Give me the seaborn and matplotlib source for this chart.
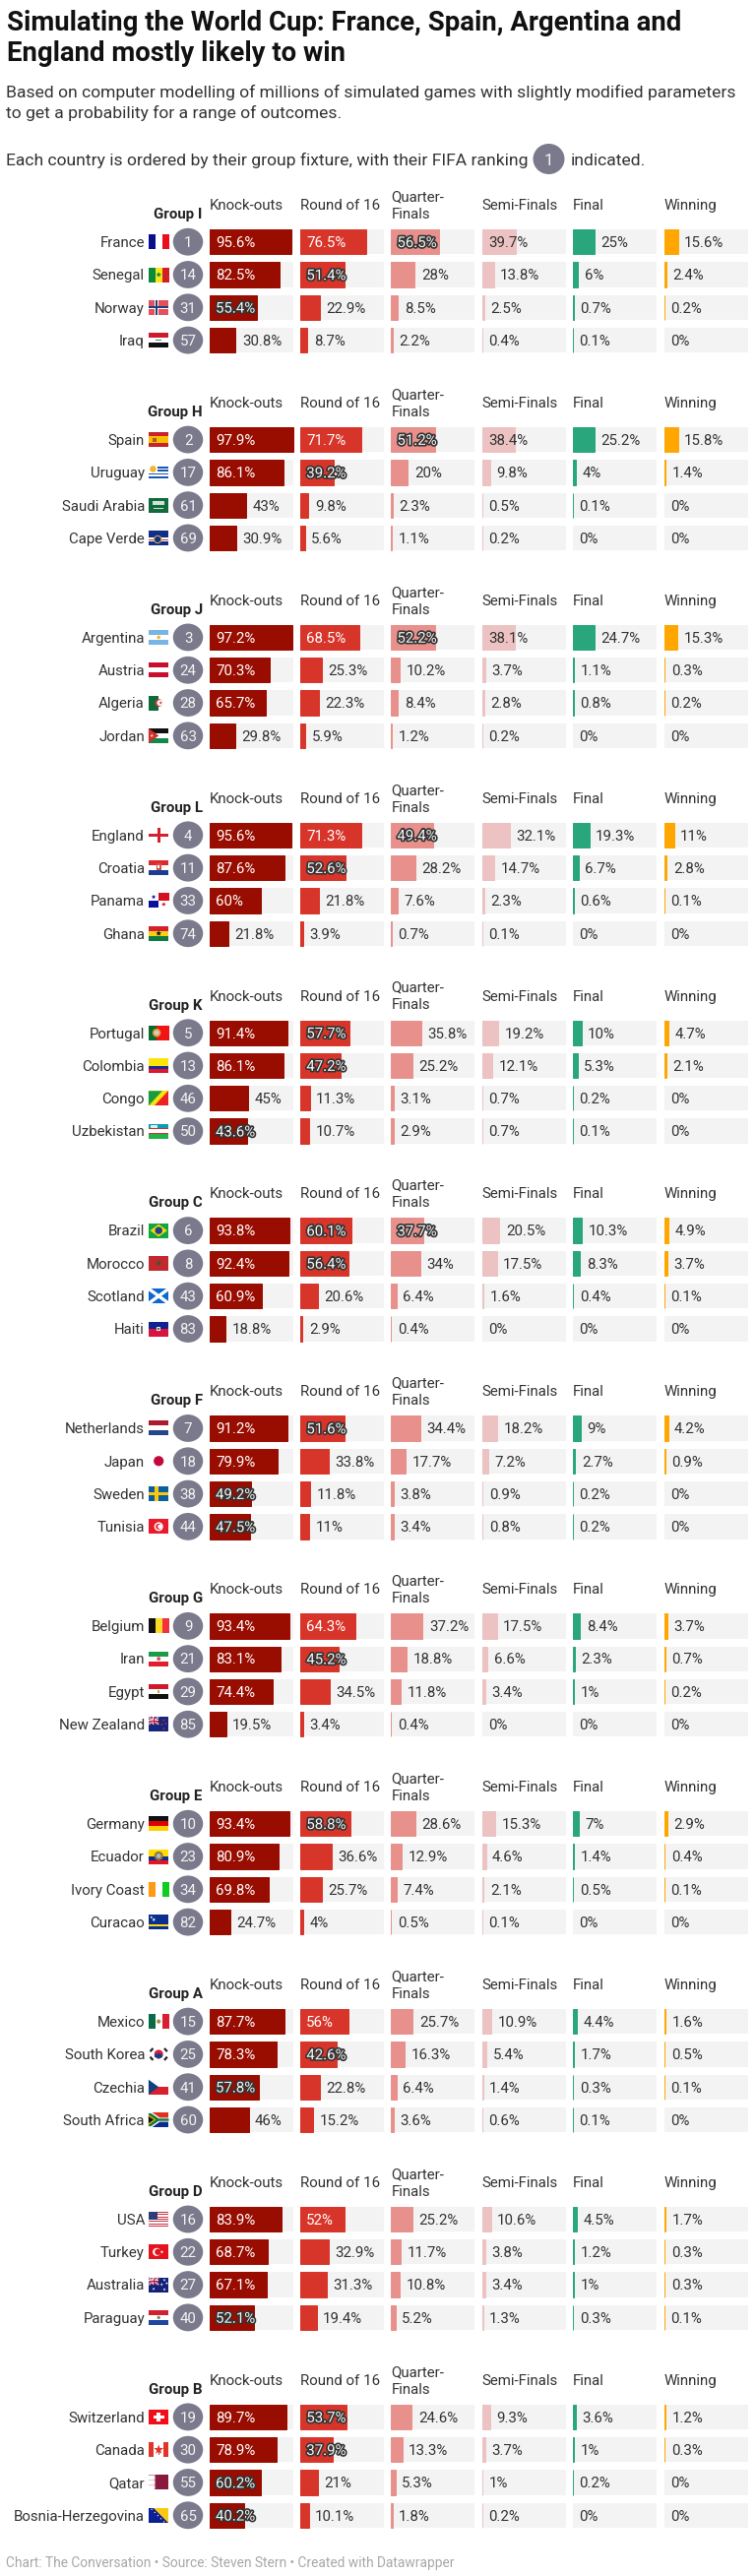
import math

import matplotlib
matplotlib.use("Agg")
import matplotlib.pyplot as plt
import matplotlib.patheffects as pe
from matplotlib.lines import Line2D
from matplotlib.patches import Ellipse, Polygon, Rectangle
from matplotlib.transforms import Affine2D
import pandas as pd
import seaborn as sns

# ---------------------------------------------------------------- data
GROUP_NAMES = ["Group I", "Group H", "Group J", "Group L", "Group K", "Group C",
               "Group F", "Group G", "Group E", "Group A", "Group D", "Group B"]
TEAMS = ["France", "Senegal", "Norway", "Iraq",
         "Spain", "Uruguay", "Saudi Arabia", "Cape Verde",
         "Argentina", "Austria", "Algeria", "Jordan",
         "England", "Croatia", "Panama", "Ghana",
         "Portugal", "Colombia", "Congo", "Uzbekistan",
         "Brazil", "Morocco", "Scotland", "Haiti",
         "Netherlands", "Japan", "Sweden", "Tunisia",
         "Belgium", "Iran", "Egypt", "New Zealand",
         "Germany", "Ecuador", "Ivory Coast", "Curacao",
         "Mexico", "South Korea", "Czechia", "South Africa",
         "USA", "Turkey", "Australia", "Paraguay",
         "Switzerland", "Canada", "Qatar", "Bosnia-Herzegovina"]
RANKS = [1, 14, 31, 57, 2, 17, 61, 69, 3, 24, 28, 63, 4, 11, 33, 74,
         5, 13, 46, 50, 6, 8, 43, 83, 7, 18, 38, 44, 9, 21, 29, 85,
         10, 23, 34, 82, 15, 25, 41, 60, 16, 22, 27, 40, 19, 30, 55, 65]
KNOCKOUTS = [95.6, 82.5, 55.4, 30.8, 97.9, 86.1, 43, 30.9, 97.2, 70.3, 65.7, 29.8,
             95.6, 87.6, 60, 21.8, 91.4, 86.1, 45, 43.6, 93.8, 92.4, 60.9, 18.8,
             91.2, 79.9, 49.2, 47.5, 93.4, 83.1, 74.4, 19.5, 93.4, 80.9, 69.8, 24.7,
             87.7, 78.3, 57.8, 46, 83.9, 68.7, 67.1, 52.1, 89.7, 78.9, 60.2, 40.2]
ROUND_OF_16 = [76.5, 51.4, 22.9, 8.7, 71.7, 39.2, 9.8, 5.6, 68.5, 25.3, 22.3, 5.9,
               71.3, 52.6, 21.8, 3.9, 57.7, 47.2, 11.3, 10.7, 60.1, 56.4, 20.6, 2.9,
               51.6, 33.8, 11.8, 11, 64.3, 45.2, 34.5, 3.4, 58.8, 36.6, 25.7, 4,
               56, 42.6, 22.8, 15.2, 52, 32.9, 31.3, 19.4, 53.7, 37.9, 21, 10.1]
QUARTER_FINALS = [56.5, 28, 8.5, 2.2, 51.2, 20, 2.3, 1.1, 52.2, 10.2, 8.4, 1.2,
                  49.4, 28.2, 7.6, 0.7, 35.8, 25.2, 3.1, 2.9, 37.7, 34, 6.4, 0.4,
                  34.4, 17.7, 3.8, 3.4, 37.2, 18.8, 11.8, 0.4, 28.6, 12.9, 7.4, 0.5,
                  25.7, 16.3, 6.4, 3.6, 25.2, 11.7, 10.8, 5.2, 24.6, 13.3, 5.3, 1.8]
SEMI_FINALS = [39.7, 13.8, 2.5, 0.4, 38.4, 9.8, 0.5, 0.2, 38.1, 3.7, 2.8, 0.2,
               32.1, 14.7, 2.3, 0.1, 19.2, 12.1, 0.7, 0.7, 20.5, 17.5, 1.6, 0,
               18.2, 7.2, 0.9, 0.8, 17.5, 6.6, 3.4, 0, 15.3, 4.6, 2.1, 0.1,
               10.9, 5.4, 1.4, 0.6, 10.6, 3.8, 3.4, 1.3, 9.3, 3.7, 1, 0.2]
FINALS = [25, 6, 0.7, 0.1, 25.2, 4, 0.1, 0, 24.7, 1.1, 0.8, 0,
          19.3, 6.7, 0.6, 0, 10, 5.3, 0.2, 0.1, 10.3, 8.3, 0.4, 0,
          9, 2.7, 0.2, 0.2, 8.4, 2.3, 1, 0, 7, 1.4, 0.5, 0,
          4.4, 1.7, 0.3, 0.1, 4.5, 1.2, 1, 0.3, 3.6, 1, 0.2, 0]
WINNING = [15.6, 2.4, 0.2, 0, 15.8, 1.4, 0, 0, 15.3, 0.3, 0.2, 0,
           11, 2.8, 0.1, 0, 4.7, 2.1, 0, 0, 4.9, 3.7, 0.1, 0,
           4.2, 0.9, 0, 0, 3.7, 0.7, 0.2, 0, 2.9, 0.4, 0.1, 0,
           1.6, 0.5, 0.1, 0, 1.7, 0.3, 0.3, 0.1, 1.2, 0.3, 0, 0]
STAGES = ["Knock-outs", "Round of 16", "Quarter-\nFinals", "Semi-Finals", "Final", "Winning"]
STAGE_VALUES = [KNOCKOUTS, ROUND_OF_16, QUARTER_FINALS, SEMI_FINALS, FINALS, WINNING]
SCALE_MAX = 97.9

TITLE = ["Simulating the World Cup: France, Spain, Argentina and",
         "England mostly likely to win"]
INTRO = ["Based on computer modelling of millions of simulated games with slightly modified parameters",
         "to get a probability for a range of outcomes."]
KEY_BEFORE, KEY_RANK, KEY_AFTER = ("Each country is ordered by their group fixture, with their FIFA ranking",
                                   "1", "indicated.")
FOOTER = "Chart: The Conversation \u2022 Source: Steven Stern \u2022 Created with Datawrapper"

frame = pd.DataFrame({
    "team": TEAMS,
    "group": [g for g in GROUP_NAMES for _ in range(4)],
    "rank": RANKS,
    **{stage: vals for stage, vals in zip(STAGES, STAGE_VALUES)},
})

# ---------------------------------------------------------------- layout, in pixels
WIDTH, HEIGHT, DPI = 768, 2617, 100
PT = 72 / DPI
COLUMN_LEFT = [212.6, 304.9, 397.0, 489.6, 582.0, 675.0]
COLUMN_WIDTH = 85.3
COLUMN_COLORS = ["#990c00", "#d8352a", "#e8918c", "#ecc2c2", "#29a67b", "#ffa600"]
TRACK = "#f3f3f3"
INK = "#333333"
FIRST_ROW = 245.7
ROW_STEP = 33.3
GROUP_STEP = 200.88
BAR_SHARE = 25.3 / ROW_STEP
LABEL_PX = 15.0

sns.set_theme(style="white")
plt.rcParams["font.family"] = ["Roboto", "DejaVu Sans"]

fig = plt.figure(figsize=(WIDTH / DPI, HEIGHT / DPI), dpi=DPI, facecolor="white")

page = fig.add_axes([0, 0, 1, 1], zorder=5)
page.set_xlim(0, WIDTH)
page.set_ylim(HEIGHT, 0)
page.axis("off")
page.patch.set_alpha(0)


def put(x, centre, text, px, color=INK, ha="left", weight="normal", baseline=None):
    """Place a text line on the page by its optical centre, or by its baseline."""
    y = baseline if baseline is not None else centre + 0.355 * px
    return page.text(x, y, text, fontsize=px * PT, color=color, ha=ha, va="baseline",
                     fontweight=weight)


def rank_badge(cx, cy, text, w=30.5, h=27.8, px=LABEL_PX):
    page.add_patch(Ellipse((cx, cy), w, h, facecolor="#7b7a8c", edgecolor="none"))
    put(cx, cy, text, px, color="#f2f2f2", ha="center")


# ---------------------------------------------------------------- flags
class Flag:
    """A small flag painted in unit coordinates inside a pixel box on the page."""
    W, H = 20.6, 15.0

    def __init__(self, cx, cy):
        self.t = Affine2D().scale(self.W, self.H).translate(cx - self.W / 2, cy - self.H / 2) + page.transData

    def rect(self, x, y, w, h, c):
        page.add_patch(Rectangle((x, y), w, h, facecolor=c, edgecolor="none", transform=self.t))
        return self

    def hs(self, *colors, weights=None):
        weights = weights or [1] * len(colors)
        y, total = 0, sum(weights)
        for c, k in zip(colors, weights):
            self.rect(0, y, 1, k / total, c)
            y += k / total
        return self

    def vs(self, *colors, weights=None):
        weights = weights or [1] * len(colors)
        x, total = 0, sum(weights)
        for c, k in zip(colors, weights):
            self.rect(x, 0, k / total, 1, c)
            x += k / total
        return self

    def poly(self, pts, c):
        page.add_patch(Polygon(pts, closed=True, facecolor=c, edgecolor="none", transform=self.t))
        return self

    def disc(self, x, y, r, c):
        page.add_patch(Ellipse((x, y), 2 * r * self.H / self.W, 2 * r, facecolor=c, edgecolor="none",
                               transform=self.t))
        return self

    def star(self, x, y, r, c):
        pts = []
        for i in range(10):
            a = -math.pi / 2 + i * math.pi / 5
            rr = r if i % 2 == 0 else r * 0.42
            pts.append((x + rr * math.cos(a) * self.H / self.W, y + rr * math.sin(a)))
        return self.poly(pts, c)

    def line(self, x0, y0, x1, y1, c, lw):
        page.add_line(Line2D([x0, x1], [y0, y1], color=c, lw=lw, transform=self.t, solid_capstyle="butt"))
        return self

    def jack(self):
        self.rect(0, 0, 0.5, 0.5, "#22307f")
        self.line(0, 0, 0.5, 0.5, "white", 1.2).line(0, 0.5, 0.5, 0, "white", 1.2)
        self.line(0, 0, 0.5, 0.5, "#c8102e", 0.4).line(0, 0.5, 0.5, 0, "#c8102e", 0.4)
        self.line(0.25, 0, 0.25, 0.5, "white", 1.6).line(0, 0.25, 0.5, 0.25, "white", 1.6)
        self.line(0.25, 0, 0.25, 0.5, "#c8102e", 0.9).line(0, 0.25, 0.5, 0.25, "#c8102e", 0.9)
        return self


def paint_norway(f):
    f.hs("#e4505c")
    f.rect(0.28, 0, 0.2, 1, "white").rect(0, 0.38, 1, 0.24, "white")
    f.rect(0.33, 0, 0.1, 1, "#1e3f78").rect(0, 0.44, 1, 0.12, "#1e3f78")


def paint_uruguay(f):
    f.hs(*["white", "#1b57b0"] * 4 + ["white"])
    f.rect(0, 0, 0.45, 0.55, "white").disc(0.22, 0.27, 0.22, "#f2b632")


def paint_saudi(f):
    f.hs("#116b3c")
    f.rect(0.22, 0.22, 0.56, 0.3, "#cfe2d6").rect(0.25, 0.68, 0.5, 0.05, "#cfe2d6")


def paint_cape_verde(f):
    f.hs("#0f2f8a", "white", "#d0392b", "white", "#0f2f8a", weights=[6, 1, 1, 1, 3])
    f.disc(0.45, 0.6, 0.28, "#c9a24a").disc(0.45, 0.6, 0.2, "#0f2f8a")


def paint_algeria(f):
    f.vs("#0c6b3a", "white")
    f.disc(0.5, 0.5, 0.26, "#d0312d").disc(0.56, 0.5, 0.2, "white").star(0.6, 0.5, 0.12, "#d0312d")


def paint_jordan(f):
    f.hs("#111111", "white", "#108a4a")
    f.poly([(0, 0), (0.5, 0.5), (0, 1)], "#d0312d").star(0.16, 0.5, 0.11, "white")


def paint_england(f):
    f.rect(0.42, 0, 0.16, 1, "#d4202e").rect(0, 0.4, 1, 0.2, "#d4202e")


def paint_croatia(f):
    f.hs("#e02a2a", "white", "#1c3d94")
    f.rect(0.38, 0.18, 0.24, 0.5, "#d84c4c").rect(0.44, 0.3, 0.12, 0.2, "white")


def paint_panama(f):
    f.rect(0.5, 0, 0.5, 0.5, "#d6101f").rect(0, 0.5, 0.5, 0.5, "#0b0f9e")
    f.star(0.25, 0.25, 0.16, "#0b0f9e").star(0.75, 0.75, 0.16, "#d6101f")


def paint_portugal(f):
    f.vs("#0b6b2d", "#f01414", weights=[2, 3])
    f.disc(0.4, 0.5, 0.28, "#e6a23c").disc(0.4, 0.5, 0.15, "#c9d3df")


def paint_congo(f):
    f.hs("#f5e50f")
    f.poly([(0, 0), (0.68, 0), (0, 1)], "#1a9c3e").poly([(1, 0), (1, 1), (0.32, 1)], "#ef2020")


def paint_uzbekistan(f):
    f.hs("#0f9ab5", "#d23030", "white", "#d23030", "#21b24a", weights=[10, 1, 9, 1, 10])
    f.rect(0.12, 0.08, 0.3, 0.18, "#d5eef2")


def paint_brazil(f):
    f.hs("#11a63f")
    f.poly([(0.08, 0.5), (0.5, 0.08), (0.92, 0.5), (0.5, 0.92)], "#f5dc0a").disc(0.5, 0.5, 0.25, "#22408c")


def paint_scotland(f):
    f.hs("#0a68d0")
    f.line(0, 0, 1, 1, "white", 2.4).line(0, 1, 1, 0, "white", 2.4)


def paint_haiti(f):
    f.hs("#0f2490", "#d81540")
    f.rect(0.39, 0.36, 0.22, 0.28, "#e9e9e9").rect(0.46, 0.46, 0.08, 0.12, "#4a6a4a")


def paint_sweden(f):
    f.hs("#0a5f9e")
    f.rect(0.3, 0, 0.18, 1, "#fdc80c").rect(0, 0.39, 1, 0.22, "#fdc80c")


def paint_tunisia(f):
    f.hs("#ea1a2a")
    f.disc(0.5, 0.5, 0.3, "white").disc(0.5, 0.5, 0.2, "#ea1a2a").disc(0.56, 0.5, 0.15, "white")


def paint_iran(f):
    f.hs("#1a9b4a", "white", "#df1f2f")
    f.disc(0.5, 0.5, 0.13, "#df5060")


def paint_new_zealand(f):
    f.hs("#17277e").jack()
    for x, y in [(0.75, 0.22), (0.66, 0.5), (0.85, 0.45), (0.75, 0.8)]:
        f.star(x, y, 0.09, "#e02a2a")


def paint_ecuador(f):
    f.hs("#ffdd00", "#0f2a90", "#e01525", weights=[2, 1, 1])
    f.disc(0.5, 0.46, 0.3, "#a0702a").disc(0.5, 0.46, 0.16, "#8fc0e0")


def paint_curacao(f):
    f.hs("#0a2f8e", "#f9d90f", "#0a2f8e", weights=[11, 2, 3])
    f.star(0.14, 0.18, 0.1, "white").star(0.26, 0.34, 0.13, "white")


def paint_mexico(f):
    f.vs("#0b6b47", "white", "#d81e30")
    f.disc(0.5, 0.5, 0.14, "#a58a4a")


def paint_korea(f):
    f.disc(0.5, 0.5, 0.3, "#d81e30").rect(0.3, 0.52, 0.4, 0.2, "#173c8c")
    f.disc(0.5, 0.62, 0.18, "#173c8c")
    for x, y, x1, y1 in [(0.08, 0.32, 0.22, 0.1), (0.78, 0.1, 0.92, 0.32),
                         (0.08, 0.68, 0.22, 0.9), (0.78, 0.9, 0.92, 0.68)]:
        f.line(x, y, x1, y1, "#222222", 1.6)


def paint_south_africa(f):
    f.hs("#e0301e", "#0c2a8f")
    f.poly([(0, 0), (0.18, 0), (0.55, 0.36), (1, 0.36), (1, 0.64), (0.55, 0.64), (0.18, 1), (0, 1)], "white")
    f.poly([(0, 0.06), (0.12, 0.06), (0.5, 0.42), (1, 0.42), (1, 0.58), (0.5, 0.58), (0.12, 0.94), (0, 0.94)],
           "#107a3c")
    f.poly([(0, 0.16), (0.36, 0.5), (0, 0.84)], "#f5b70f")
    f.poly([(0, 0.26), (0.26, 0.5), (0, 0.74)], "#111111")


def paint_usa(f):
    f.hs(*["#c8354a", "white"] * 6 + ["#c8354a"])
    f.rect(0, 0, 0.44, 0.54, "#2f3d77")


def paint_turkey(f):
    f.hs("#e4141e")
    f.disc(0.4, 0.5, 0.27, "white").disc(0.46, 0.5, 0.21, "#e4141e").star(0.66, 0.5, 0.12, "white")


def paint_australia(f):
    f.hs("#14227a").jack()
    for x, y in [(0.25, 0.78), (0.78, 0.18), (0.65, 0.48), (0.9, 0.4), (0.78, 0.82)]:
        f.star(x, y, 0.1, "white")


def paint_canada(f):
    f.vs("#e0352a", "white", "#e0352a", weights=[1, 2, 1])
    f.star(0.5, 0.5, 0.34, "#e0352a").rect(0.48, 0.6, 0.04, 0.25, "#e0352a")


def paint_qatar(f):
    f.hs("#8a1a3d")
    for k in range(6):
        f.poly([(0, k / 6), (0.36, k / 6), (0.28, (k + 0.5) / 6), (0.36, (k + 1) / 6), (0, (k + 1) / 6)], "white")


def paint_bosnia(f):
    f.hs("#0d1f92")
    f.poly([(0.24, 0), (1, 0), (1, 1)], "#fbc813")
    for k in range(5):
        f.star(0.16 + k * 0.15, 0.0 + k * 0.21 + 0.1, 0.07, "white")


PAINTERS = {
    "France": lambda f: f.vs("#0a0f8c", "white", "#e8101e"),
    "Senegal": lambda f: f.vs("#0b8a3a", "#fbe51a", "#d21f26").star(0.5, 0.5, 0.2, "#0b8a3a"),
    "Norway": paint_norway,
    "Iraq": lambda f: f.hs("#ce1a2c", "white", "#111111").rect(0.35, 0.44, 0.3, 0.12, "#3a8a55"),
    "Spain": lambda f: f.hs("#c8232c", "#f6c000", "#c8232c", weights=[1, 2, 1]).rect(0.22, 0.38, 0.18, 0.26, "#b5562a"),
    "Uruguay": paint_uruguay,
    "Saudi Arabia": paint_saudi,
    "Cape Verde": paint_cape_verde,
    "Argentina": lambda f: f.hs("#78b4e4", "white", "#78b4e4").disc(0.5, 0.5, 0.12, "#f2b632"),
    "Austria": lambda f: f.hs("#c8102e", "white", "#c8102e"),
    "Algeria": paint_algeria,
    "Jordan": paint_jordan,
    "England": paint_england,
    "Croatia": paint_croatia,
    "Panama": paint_panama,
    "Ghana": lambda f: f.hs("#d4202e", "#f5cf1a", "#0e7a40").star(0.5, 0.5, 0.2, "#111111"),
    "Portugal": paint_portugal,
    "Colombia": lambda f: f.hs("#fde50a", "#14309a", "#e0152a", weights=[2, 1, 1]),
    "Congo": paint_congo,
    "Uzbekistan": paint_uzbekistan,
    "Brazil": paint_brazil,
    "Morocco": lambda f: f.hs("#c3282e").star(0.5, 0.5, 0.2, "#2e5a2e"),
    "Scotland": paint_scotland,
    "Haiti": paint_haiti,
    "Netherlands": lambda f: f.hs("#ad1c2c", "white", "#23468f"),
    "Japan": lambda f: f.disc(0.5, 0.5, 0.34, "#c3093c"),
    "Sweden": paint_sweden,
    "Tunisia": paint_tunisia,
    "Belgium": lambda f: f.vs("#111111", "#fdda24", "#ef3340"),
    "Iran": paint_iran,
    "Egypt": lambda f: f.hs("#ce1a2c", "white", "#111111").rect(0.44, 0.4, 0.12, 0.2, "#c9a24a"),
    "New Zealand": paint_new_zealand,
    "Germany": lambda f: f.hs("#111111", "#dd0000", "#ffce00"),
    "Ecuador": paint_ecuador,
    "Ivory Coast": lambda f: f.vs("#ff9a12", "white", "#10cc20"),
    "Curacao": paint_curacao,
    "Mexico": paint_mexico,
    "South Korea": paint_korea,
    "Czechia": lambda f: f.hs("white", "#d9202e").poly([(0, 0), (0.5, 0.5), (0, 1)], "#123f7e"),
    "South Africa": paint_south_africa,
    "USA": paint_usa,
    "Turkey": paint_turkey,
    "Australia": paint_australia,
    "Paraguay": lambda f: f.hs("#d4202e", "white", "#1f46a0").disc(0.5, 0.5, 0.11, "#7a8a5a"),
    "Switzerland": lambda f: f.hs("#f00f1a").rect(0.4, 0.2, 0.2, 0.6, "white").rect(0.24, 0.38, 0.52, 0.24, "white"),
    "Canada": paint_canada,
    "Qatar": paint_qatar,
    "Bosnia-Herzegovina": paint_bosnia,
}


# ---------------------------------------------------------------- value labels
def label_style(stage, value):
    """Where a value label sits and how it is inked, from the bar it annotates."""
    text = f"{value:g}%"
    long_label = len(text) >= 5
    inside = value >= (37.5 if long_label else 47)
    if not inside:
        return text, False, INK, None
    if stage == "Semi-Finals":
        return text, True, INK, None
    if long_label and value < 60.5:
        return text, True, "#f4f4f4", "#333333"
    return text, True, "white", None


# ---------------------------------------------------------------- header text
for y, line in zip([30.7, 62.3], TITLE):
    put(6.9, None, line, 27.55, color="#111111", weight="bold", baseline=y)
for y, line in zip([98.7, 120.0], INTRO):
    put(6.5, None, line, 17.5, baseline=y)
put(6.5, None, KEY_BEFORE, 17.5, baseline=167.7)
rank_badge(557.5, 161.5, KEY_RANK, w=32, h=31, px=17)
put(579.4, None, KEY_AFTER, 17.5, baseline=167.7)
put(6.5, None, FOOTER, 13.8, color="#a8a8a8", baseline=2607.7)

# ---------------------------------------------------------------- one table per group
for g, group in enumerate(GROUP_NAMES):
    rows = frame[frame["group"] == group].reset_index(drop=True)
    order = list(rows["team"])
    first = FIRST_ROW + g * GROUP_STEP

    put(205.8, first - 29, group, LABEL_PX, color="#222222", ha="right", weight="bold")

    for r, row in rows.iterrows():
        cy = first + r * ROW_STEP
        put(147, cy, row["team"], LABEL_PX, ha="right")
        PAINTERS[row["team"]](Flag(161.2, cy))
        rank_badge(191, cy, str(row["rank"]))

    for c, stage in enumerate(STAGES):
        left, top = COLUMN_LEFT[c], first - ROW_STEP / 2
        ax = fig.add_axes([left / WIDTH, 1 - (top + 4 * ROW_STEP) / HEIGHT,
                           COLUMN_WIDTH / WIDTH, 4 * ROW_STEP / HEIGHT], zorder=2)
        track = rows.assign(full=SCALE_MAX)
        sns.barplot(data=track, x="full", y="team", order=order, color=TRACK,
                    width=BAR_SHARE, saturation=1, linewidth=0, ax=ax)
        shown = rows[rows[stage] > 0]
        sns.barplot(data=shown, x=stage, y="team", order=order, color=COLUMN_COLORS[c],
                    width=BAR_SHARE, saturation=1, linewidth=0.7, edgecolor=COLUMN_COLORS[c],
                    ax=ax, errorbar=None)
        ax.set_xlim(0, SCALE_MAX)
        ax.set_ylim(3.5, -0.5)
        ax.axis("off")
        for bar in ax.patches:
            bar.set_clip_on(False)

        for r, value in enumerate(rows[stage]):
            text, inside, color, halo = label_style(stage, value)
            anchor = 0 if inside else value
            note = ax.annotate(text, xy=(anchor, r), xytext=(6.4 * PT, -0.355 * LABEL_PX * PT),
                               textcoords="offset points", fontsize=LABEL_PX * PT, color=color,
                               ha="left", va="baseline", annotation_clip=False, zorder=6)
            if halo:
                note.set_path_effects([pe.withStroke(linewidth=2.4, foreground=halo)])

        lines = stage.split("\n")
        if len(lines) == 1:
            put(left, first - 38.0, lines[0], LABEL_PX)
        else:
            put(left + 0.5, first - 46.8, lines[0], LABEL_PX)
            put(left + 0.5, first - 29.1, lines[1], LABEL_PX)

fig.savefig("out.png", dpi=DPI, facecolor="white")
